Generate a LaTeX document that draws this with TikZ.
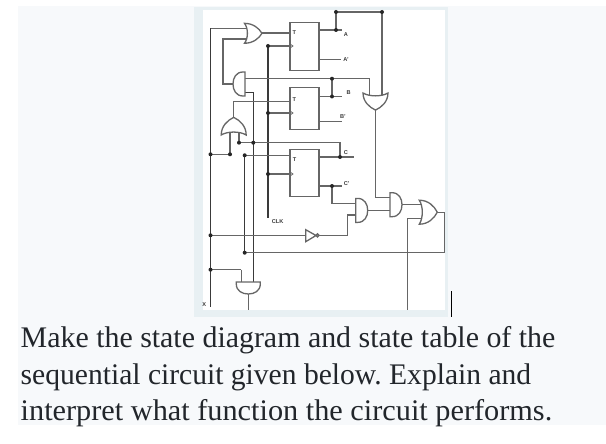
\documentclass[tikz,border=0pt]{standalone}
\usepackage{fontspec}
\setmainfont{Liberation Serif}
\setsansfont{Liberation Sans}
\definecolor{pagebg}{HTML}{F7F9FB}
\definecolor{panelbg}{HTML}{E8F0F3}
\definecolor{wire}{HTML}{666666}
\definecolor{darkwire}{HTML}{3A3A3A}
\definecolor{inktext}{HTML}{22262B}
\tikzset{
  x=1pt,y=-1pt,
  wirepath/.style={draw=wire,line width=1.3pt,line join=miter},
  darkpath/.style={draw=darkwire,line width=1.2pt},
  ffbox/.style={draw=wire,line width=1.3pt,fill=white,minimum width=29pt,inner sep=0pt,outer sep=0pt},
  junction/.style={circle,fill=black!85,inner sep=0pt,minimum size=4pt},
  tinylabel/.style={font=\sffamily\bfseries\fontsize{5.6}{6}\selectfont,text=darkwire,inner sep=0pt},
  bodytext/.style={font=\fontsize{29.9}{32}\selectfont\frenchspacing,text=inktext,anchor=base west,inner sep=0pt},
  andgate/.pic={\draw[wirepath,fill=white] (0,-12) -- (0,12) -- (2,12) .. controls (9,12) and (12,6) .. (12,0) .. controls (12,-6) and (9,-12) .. (2,-12) -- cycle;},
  orgate/.pic={\draw[wirepath,fill=white] (0,-12) .. controls (9,-12) and (15,-6) .. (18,0) .. controls (15,6) and (9,12) .. (0,12) .. controls (4,6) and (4,-6) .. (0,-12) -- cycle;},
}
\begin{document}
\begin{tikzpicture}
\useasboundingbox (0,0) rectangle (606,444);
\fill[white] (0,0) rectangle (606,444);
\fill[pagebg] (18,6) rectangle (606,425);
\fill[panelbg] (194,7) rectangle (448,317);
\fill[white] (203,10) rectangle (445,310);
\draw[black,line width=1pt] (451.5,291) -- (451.5,317);

% junctions and ports
\foreach \n/\x/\y in {
 ja/336/30, jat/336/12, jar/382/12, ja0/342/30, jan/319/59.5, jan0/341/59.5,
 jb/332/96.5, jbt/332/78.7, jb0/342/96.5, jbn/319/121.3, jbn0/342/121.3,
 jc/340/157, jct/340/142.7, jc0/354/157, jcq/319/186, jcn/332/186, jcn0/342/186, jcd/332/203.3,
 xt/210.5/28.3, xb/210.5/306.7, x1/210.5/154.3, x2/210.5/235.3, x3/210.5/269.7,
 ck/268/46, ck1/268/113, ck2/268/174, ckb/268/218,
 t1/290/33, c1/290/46, t2/290/101.7, c2/290/113, t3/290/155.3, c3/290/174,
 q1/319/30, q2/319/96.5, q3/319/157,
 r1/244.7/155.3, r2/244.7/252.7, rr/444.7/252.7, rt/444.7/212.3,
 g1/253.3/142.7, g1b/239/142.7, g1t/253.3/92.7, g1a/245/92.7, g1c/253.3/282,
 a2u/245/78.7, a2r/369.3/78.7, a2d/369.3/97,
 o1a/248/28.3, o1b/248/39, o1w/223/39, o1d/223/84, a2o/233.5/84, o1o/262/33,
 o2o/233.3/117.3, o2u/233.3/101.7, o2a/230/130, o2ab/230/154.3, o2b/239/130,
 o4a/382/97, o4o/375.3/110, o4d/375.3/197.7, a4a/390/197.7, a4b/390/210.7, a3o/367.7/210.7,
 a3a/355.7/203.3, a3b/355.7/215, iw/347.3/215, iw2/347.3/235.3, ii/305.7/235.3, io/319/235.3,
 a4o/401.7/204.7, o3a/421/204.7, o3b/421/218.7, o3w/407.3/218.7, o3d/407.3/310, o3o/437.3/212.3,
 a5a/241.3/282, a5c/241.3/269.7, a5o/248.3/294.3, a5d/248.3/310}
 {\coordinate (\n) at (\x,\y);}

% flip-flops
\node[ffbox,minimum height=48pt] (ffa) at (304.5,46.7) {};
\node[ffbox,minimum height=42pt] (ffb) at (304.5,108.3) {};
\node[ffbox,minimum height=47.4pt] (ffc) at (304.5,173) {};

% wires
\draw[darkpath] (xt) -- (xb);
\draw[darkpath] (ck) -- (ckb);
\draw[wirepath] (xt) -- (o1a);
\draw[wirepath] (o1b) -- (o1w) -- (o1d) -- (a2o);
\draw[wirepath] (o1o) -- (t1);
\draw[wirepath] (ck) -- (c1);
\draw[wirepath] (ck1) -- (c2);
\draw[wirepath] (ck2) -- (c3);
\draw[wirepath] (q1) -- (ja0);
\draw[wirepath] (ja) -- (jat) -- (jar) -- (o4a);
\draw[wirepath] (jan) -- (jan0);
\draw[wirepath] (a2u) -- (a2r) -- (a2d);
\draw[wirepath] (jbt) -- (jb);
\draw[wirepath] (q2) -- (jb0);
\draw[wirepath] (jbn) -- (jbn0);
\draw[wirepath] (a5c) -- (x3);
\draw[wirepath] (a5a) -- (a5c);
\draw[darkpath] (g1a) -- (g1t) -- (g1c);
\draw[wirepath] (o2o) -- (o2u) -- (t2);
\draw[wirepath] (o2a) -- (o2ab) -- (x1);
\draw[wirepath] (o2b) -- (g1b) -- (jct) -- (jc);
\draw[wirepath] (q3) -- (jc0);
\draw[wirepath] (jcq) -- (jcn0);
\draw[wirepath] (jcn) -- (jcd) -- (a3a);
\draw[wirepath] (r1) -- (t3);
\draw[darkpath] (r1) -- (r2);
\draw[wirepath] (r2) -- (rr) -- (rt) -- (o3o);
\draw[wirepath] (x2) -- (ii);
\draw[wirepath] (io) -- (iw2) -- (iw) -- (a3b);
\draw[wirepath] (o4o) -- (o4d) -- (a4a);
\draw[wirepath] (a3o) -- (a4b);
\draw[wirepath] (a4o) -- (o3a);
\draw[wirepath] (o3b) -- (o3w) -- (o3d);
\draw[wirepath] (a5o) -- (a5d);

% gates
\pic[yscale=.83,xscale=.97] at (244.5,33.3) {orgate};
\pic[rotate=180] at (245,84) {andgate};
\pic[rotate=90,xscale=.98,yscale=1.04] at (233.7,135) {orgate};
\pic[rotate=-90,xscale=.95,yscale=1.04] at (375.5,93) {orgate};
\pic at (355.7,210.4) {andgate};
\pic at (390,204.7) {andgate};
\pic at (419.3,212.2) {orgate};
\pic[rotate=-90] at (248.3,282) {andgate};

% inverter
\draw[wirepath,fill=white] (305.7,229.7) -- (316,235.5) -- (305.7,241.7) -- cycle;
\draw[wirepath,fill=white] (317.5,235.4) circle (1.5);

% clock triangles
\foreach \p in {c1,c2,c3} \draw[wire,line width=.8pt] (\p) ++(0,-2) -- ++(3,2) -- ++(-3,2);

% junction dots
\foreach \p in {ja,jat,jar,jb,jbt,jc,jcn,x1,x2,x3,ck,ck1,ck2,r1,g1,g1b,o2ab,r2}
  \node[junction] at (\p) {};

% labels
\node[tinylabel] (la) at (346,34.5) {A};
\node[tinylabel] (lan) at (346,59.5) {A'};
\node[tinylabel] (lb) at (348.7,92.7) {B};
\node[tinylabel] (lbn) at (343,116.7) {B'};
\node[tinylabel] (lc) at (346,153) {C};
\node[tinylabel] (lcn) at (346.7,184) {C'};
\node[tinylabel] (lt1) at (294.4,32.7) {T};
\node[tinylabel] (lt2) at (294.4,100) {T};
\node[tinylabel] (lt3) at (294.6,160) {T};
\node[tinylabel] (lclk) at (277.7,221.3) {CLK};
\node[tinylabel] (lx) at (204.3,305) {X};

% text
\node[bodytext] (line1) at (20.5,347.5) {Make the state diagram and state table of the};
\node[bodytext,xscale=.989] (line2) at (20.5,384) {sequential circuit given below. Explain and};
\node[bodytext,xscale=1.013] (line3) at (20.5,420) {interpret what function the circuit performs.};
\end{tikzpicture}
\end{document}
